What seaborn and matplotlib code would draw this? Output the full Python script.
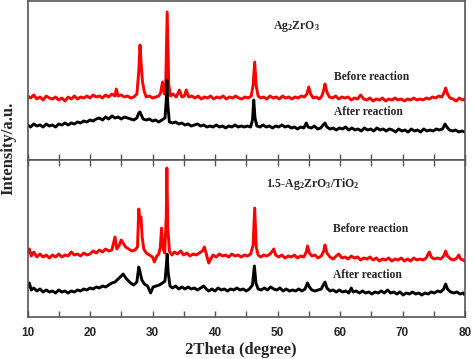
import matplotlib
matplotlib.use("Agg")
import matplotlib.pyplot as plt
import seaborn as sns
from matplotlib.ticker import MultipleLocator

sns.set_style("white")
plt.rcParams["font.family"] = ["Liberation Serif", "DejaVu Serif"]
plt.rcParams["mathtext.fontset"] = "custom"
plt.rcParams["mathtext.bf"] = "Liberation Serif:bold"
plt.rcParams["mathtext.rm"] = "Liberation Serif:bold"

# ---------------- data (2Theta, intensity a.u.) ----------------
top_before = [(10,64),(10.5,62),(11,65),(11.5,61),(12,63),(12.5,60),(13,64),(13.5,62),(14,61),(14.5,63),
    (15,60),(15.5,62),(16,59),(16.5,63),(17,61),(17.5,64),(18,61),(18.5,63),(19,62),(19.5,64),
    (20,62),(20.5,65),(21,63),(21.5,64),(22,62),(22.5,65),(23,63),(23.5,66),(24,64),(24.2,71),
    (24.5,64),(25,65),(25.5,63),(26,64),(26.5,62),(27,63),(27.5,66),(27.8,88),(28.0,115),(28.2,95),
    (28.4,78),(28.7,68),(29,63),(29.5,64),(30,62),(30.5,63),(31,64),(31.3,67),(31.6,78),(31.9,66),
    (32.1,70),(32.35,148),(32.6,75),(32.9,64),(33.3,66),(33.8,63),(34.3,70),(34.7,63),(35.1,64),(35.4,70),
    (35.8,63),(36.3,64),(36.8,62),(37.3,64),(37.8,61),(38.3,63),(38.8,62),(39.3,64),(39.8,61),(40.3,63),
    (40.8,62),(41.3,64),(41.8,61),(42.3,63),(42.8,62),(43.3,64),(43.8,62),(44.3,61),(44.8,63),(45.3,62),
    (45.8,64),(46.1,75),(46.35,98),(46.6,74),(46.9,64),(47.3,62),(47.8,63),(48.3,61),(48.8,64),(49.3,62),
    (49.8,63),(50.3,61),(50.8,64),(51.3,62),(51.8,63),(52.3,61),(52.8,63),(53.3,62),(53.8,64),(54.3,63),
    (54.7,66),(55.0,73),(55.3,66),(55.7,62),(56.2,63),(56.7,61),(57.1,64),(57.4,70),(57.6,76),(57.9,68),
    (58.3,63),(58.8,62),(59.3,64),(59.8,61),(60.3,63),(60.8,62),(61.3,63),(61.8,60),(62.3,62),(62.8,61),
    (63.3,65),(63.8,61),(64.3,60),(64.8,62),(65.3,59),(65.8,61),(66.3,60),(66.8,62),(67.3,59),(67.8,61),
    (68.3,60),(68.8,62),(69.3,60),(69.8,61),(70.3,59),(70.8,61),(71.3,60),(71.8,62),(72.3,60),(72.8,61),
    (73.3,60),(73.8,62),(74.3,61),(74.8,63),(75.3,62),(75.8,64),(76.3,63),(76.7,68),(76.9,72),(77.2,66),
    (77.6,62),(78.1,61),(78.6,59),(79.1,62),(79.6,60),(80,61)]

top_after = [(10,35),(10.5,33),(11,36),(11.5,34),(12,35),(12.5,33),(13,36),(13.5,34),(14,35),(14.5,33),
    (15,36),(15.5,35),(16,37),(16.5,35),(17,37),(17.5,36),(18,38),(18.5,37),(19,39),(19.5,38),
    (20,40),(20.5,39),(21,41),(21.5,42),(22,40),(22.5,43),(23,41),(23.5,44),(24,42),(24.5,43),
    (25,41),(25.5,43),(26,42),(26.5,41),(27,40),(27.5,42),(27.8,47),(28.0,48),(28.2,45),(28.5,41),
    (29,40),(29.5,41),(30,39),(30.5,40),(31,38),(31.5,40),(32.0,42),(32.2,60),(32.3,80),(32.45,55),
    (32.7,38),(33.2,37),(33.7,38),(34.2,36),(34.7,37),(35.2,35),(35.7,36),(36.2,34),(36.7,35),(37.2,36),
    (37.7,34),(38.2,35),(38.7,33),(39.2,34),(39.7,33),(40.2,35),(40.7,33),(41.2,34),(41.7,32),(42.2,34),
    (42.7,33),(43.2,35),(43.7,33),(44.2,34),(44.7,33),(45.2,34),(45.7,33),(46.0,40),(46.2,60),(46.4,42),
    (46.7,34),(47.2,33),(47.7,35),(48.2,33),(48.7,34),(49.2,32),(49.7,34),(50.2,33),(50.7,35),(51.2,33),
    (51.7,34),(52.2,32),(52.7,33),(53.2,31),(53.7,33),(54.2,32),(54.6,37),(54.9,33),(55.4,32),(55.9,34),
    (56.4,31),(56.9,32),(57.3,35),(57.6,37),(57.9,33),(58.4,31),(58.9,32),(59.4,30),(59.9,32),(60.4,31),
    (60.9,33),(61.4,30),(61.9,32),(62.4,30),(62.9,31),(63.4,29),(63.9,32),(64.4,30),(64.9,31),(65.4,29),
    (65.9,32),(66.4,30),(66.9,31),(67.4,29),(67.9,31),(68.4,30),(68.9,28),(69.4,31),(69.9,29),(70.4,30),
    (70.9,28),(71.4,31),(71.9,29),(72.4,30),(72.9,28),(73.4,31),(73.9,29),(74.4,30),(74.9,29),(75.4,31),
    (75.9,30),(76.4,31),(76.8,36),(77.1,33),(77.5,30),(78.0,29),(78.5,30),(79.0,28),(79.5,29),(80,28)]

bot_before = [(10,64),(10.3,68),(10.6,61),(11,65),(11.5,60),(12,63),(12.5,60),(13,62),(13.5,59),(14,62),
    (14.5,60),(15,63),(15.5,60),(16,62),(16.5,61),(17,65),(17.5,62),(18,63),(18.5,61),(19,64),
    (19.5,62),(20,63),(20.5,66),(21,64),(21.5,67),(22,65),(22.5,68),(23,66),(23.5,67),(24.0,80),
    (24.3,68),(24.7,72),(25.0,77),(25.3,74),(25.7,70),(26.2,68),(26.7,66),(27.2,67),(27.6,70),(27.8,108),
    (28.0,96),(28.15,100),(28.35,80),(28.6,68),(29.0,64),(29.5,62),(30.0,60),(30.3,55),(30.7,61),(31.0,63),
    (31.25,70),(31.45,89),(31.7,68),(31.95,64),(32.2,100),(32.3,149),(32.45,90),(32.7,66),(33.1,62),(33.5,65),
    (34.0,63),(34.5,66),(35.0,62),(35.5,64),(36.0,61),(36.5,63),(37.0,62),(37.5,64),(38.0,66),(38.3,70),
    (38.6,63),(39.0,54),(39.3,58),(39.7,62),(40.2,60),(40.7,63),(41.2,61),(41.7,62),(42.2,60),(42.7,63),
    (43.2,61),(43.7,62),(44.2,60),(44.7,62),(45.2,61),(45.7,63),(46.1,72),(46.35,109),(46.6,70),(46.9,62),
    (47.3,60),(47.8,62),(48.3,61),(48.8,63),(49.2,66),(49.4,68),(49.7,62),(50.2,60),(50.7,62),(51.2,59),
    (51.7,61),(52.2,60),(52.7,62),(53.2,59),(53.7,61),(54.2,60),(54.6,65),(54.8,71),(55.1,64),(55.5,61),
    (56.0,62),(56.5,59),(57.0,61),(57.4,66),(57.6,72),(57.9,64),(58.4,60),(58.9,58),(59.4,61),(59.8,63),
    (60.3,59),(60.8,60),(61.3,58),(61.8,61),(62.3,59),(62.8,60),(63.3,57),(63.8,59),(64.3,58),(64.8,60),
    (65.3,57),(65.8,59),(66.3,56),(66.8,58),(67.3,57),(67.8,59),(68.3,56),(68.8,58),(69.3,57),(69.8,59),
    (70.3,56),(70.8,58),(71.3,56),(71.8,59),(72.3,57),(72.8,58),(73.3,57),(73.8,59),(74.1,63),(74.3,65),
    (74.6,60),(75.1,58),(75.6,59),(76.1,58),(76.6,61),(76.9,66),(77.2,61),(77.7,58),(78.2,57),(78.7,59),
    (79.0,62),(79.3,58),(79.7,57),(80,56)]

bot_after = [(10,30),(10.3,34),(10.6,27),(11,29),(11.5,26),(12,28),(12.5,25),(13,27),(13.5,25),(14,26),
    (14.5,24),(15,27),(15.5,25),(16,26),(16.5,24),(17,26),(17.5,25),(18,27),(18.5,26),(19,28),
    (19.5,27),(20,29),(20.5,28),(21,30),(21.5,29),(22,31),(22.5,30),(23,32),(23.5,34),(24,35),
    (24.5,38),(25.0,41),(25.3,43),(25.6,40),(26.0,37),(26.5,34),(27.0,32),(27.5,35),(27.8,50),(28.0,45),
    (28.3,37),(28.7,33),(29.2,31),(29.7,24),(30.1,30),(30.6,31),(31.1,32),(31.6,34),(32.0,36),(32.2,50),
    (32.35,63),(32.5,45),(32.8,31),(33.2,29),(33.7,31),(34.2,28),(34.7,30),(35.2,28),(35.7,30),(36.2,28),
    (36.7,29),(37.2,27),(37.7,29),(38.2,31),(38.6,28),(39.0,26),(39.5,28),(40.0,26),(40.5,29),(41.0,27),
    (41.5,28),(42.0,26),(42.5,28),(43.0,27),(43.5,29),(44.0,27),(44.5,28),(45.0,26),(45.5,28),(46.0,32),
    (46.3,51),(46.55,34),(46.9,28),(47.4,27),(47.9,29),(48.4,27),(48.9,30),(49.4,28),(49.9,27),(50.4,29),
    (50.9,26),(51.4,28),(51.9,26),(52.4,27),(52.9,26),(53.4,28),(53.9,26),(54.4,28),(54.8,34),(55.1,30),
    (55.5,27),(56.0,26),(56.5,27),(57.0,28),(57.4,33),(57.6,35),(57.9,29),(58.4,26),(58.9,27),(59.4,25),
    (59.9,27),(60.4,25),(60.9,26),(61.4,24),(61.8,29),(62.1,25),(62.6,26),(63.1,24),(63.6,26),(64.1,24),
    (64.6,25),(65.1,23),(65.6,25),(66.1,24),(66.6,26),(67.1,24),(67.6,27),(68.1,24),(68.6,25),(69.1,23),
    (69.6,25),(70.1,22),(70.6,24),(71.1,23),(71.6,25),(72.1,23),(72.6,24),(73.1,22),(73.6,24),(74.1,23),
    (74.6,25),(75.1,24),(75.6,26),(76.1,25),(76.6,28),(76.9,33),(77.2,28),(77.7,25),(78.2,24),(78.7,25),
    (79.2,23),(79.7,24),(80,22)]

x_ticks = [10, 20, 30, 40, 50, 60, 70, 80]
top_title = r"$\mathbf{Ag_2ZrO_3}$"
bot_title = r"$\mathbf{1.5\text{-}Ag_2ZrO_3/TiO_2}$"
label_before = "Before reaction"
label_after = "After reaction"

# ---------------- figure ----------------
fig = plt.figure(figsize=(4.74, 3.59), dpi=100)
L, W = 27.5 / 474, (465 - 27.5) / 474
ax_top = fig.add_axes([L, 1 - 160 / 359, W, 159 / 359])
ax_bot = fig.add_axes([L, 1 - 317 / 359, W, 157 / 359])

spine_col = "#555555"

def draw(ax, before, after, ymax):
    xb, yb = zip(*before)
    xa, ya = zip(*after)
    sns.lineplot(x=list(xb), y=list(yb), ax=ax, color="#ff0000", lw=2.1,
                 estimator=None, sort=False)
    sns.lineplot(x=list(xa), y=list(ya), ax=ax, color="black", lw=2.1,
                 estimator=None, sort=False)
    ax.set_xlim(10, 80)
    ax.set_ylim(0, ymax)
    ax.set_yticks([])
    ax.xaxis.set_major_locator(MultipleLocator(10))
    ax.xaxis.set_minor_locator(MultipleLocator(5))
    for s in ax.spines.values():
        s.set_color(spine_col)
        s.set_linewidth(1.2)
    ax.set_xlabel("")
    ax.set_ylabel("")

draw(ax_top, top_before, top_after, 159)
draw(ax_bot, bot_before, bot_after, 157)

ax_top.tick_params(axis="x", which="both", direction="in", length=4, width=1,
                   color=spine_col, bottom=True, top=False, labelbottom=False)
ax_bot.tick_params(axis="x", which="both", direction="in", length=4, width=1,
                   color=spine_col, bottom=True, top=True, labelbottom=True)
ax_bot.set_xticks(x_ticks)
ax_bot.set_xticklabels([str(t) for t in x_ticks], fontfamily="Liberation Sans",
                       fontweight="bold", fontsize=8.5)
ax_bot.tick_params(axis="x", which="major", pad=7)

# annotations
ax_top.text(53.0, 134, top_title, ha="center", va="center", fontsize=8.5)
ax_top.text(65.1, 83, label_before, ha="center", va="center", fontsize=8.3, fontweight="bold")
ax_top.text(64.5, 48, label_after, ha="center", va="center", fontsize=8.3, fontweight="bold")
ax_bot.text(55.7, 133, bot_title, ha="center", va="center", fontsize=8.5)
ax_bot.text(64.9, 88, label_before, ha="center", va="center", fontsize=8.3, fontweight="bold")
ax_bot.text(64.4, 42, label_after, ha="center", va="center", fontsize=8.3, fontweight="bold")

fig.text(241 / 474, 1 - 350 / 359, "2Theta (degree)", ha="center", va="center",
         fontsize=12, fontweight="bold")
fig.text(8 / 474, 1 - 148 / 359, "Intensity/a.u.", ha="center", va="center",
         rotation=90, fontsize=12, fontweight="bold")

fig.savefig("out.png", dpi=100)
